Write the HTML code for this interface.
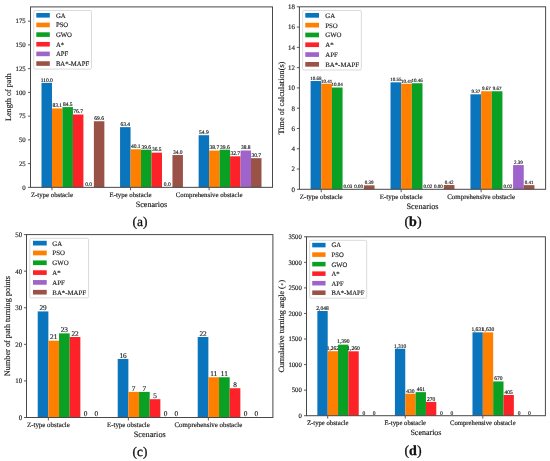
<!DOCTYPE html>
<html><head><meta charset="utf-8"><title>Figure</title>
<style>
html,body{margin:0;padding:0;background:#fff}
svg{display:block}
text{font-family:"Liberation Serif",serif;fill:#1a1a1a;text-rendering:geometricPrecision;stroke:#1a1a1a;stroke-width:0.15px}
</style></head><body>
<svg width="550" height="461" viewBox="0 0 550 461">
<rect width="550" height="461" fill="#fff"/>
<g>
<rect x="41.50" y="82.88" width="10.48" height="104.47" fill="#0a74bd"/>
<text x="46.74" y="81.68" font-size="5.5" text-anchor="middle">110.0</text>
<rect x="51.98" y="108.43" width="10.48" height="78.92" fill="#ff7f00"/>
<text x="57.21" y="107.23" font-size="5.5" text-anchor="middle">83.1</text>
<rect x="62.45" y="107.10" width="10.48" height="80.25" fill="#0aa024"/>
<text x="67.69" y="105.90" font-size="5.5" text-anchor="middle">84.5</text>
<rect x="72.93" y="114.51" width="10.48" height="72.84" fill="#fc2228"/>
<text x="78.17" y="113.31" font-size="5.5" text-anchor="middle">76.7</text>
<text x="88.64" y="186.15" font-size="5.5" text-anchor="middle">0.0</text>
<rect x="93.88" y="121.25" width="10.48" height="66.10" fill="#9b5246"/>
<text x="99.12" y="120.05" font-size="5.5" text-anchor="middle">69.6</text>
<rect x="120.07" y="127.14" width="10.48" height="60.21" fill="#0a74bd"/>
<text x="125.31" y="125.94" font-size="5.5" text-anchor="middle">63.4</text>
<rect x="130.55" y="149.27" width="10.48" height="38.08" fill="#ff7f00"/>
<text x="135.79" y="148.07" font-size="5.5" text-anchor="middle">40.1</text>
<rect x="141.02" y="149.74" width="10.48" height="37.61" fill="#0aa024"/>
<text x="146.26" y="148.54" font-size="5.5" text-anchor="middle">39.6</text>
<rect x="151.50" y="152.68" width="10.48" height="34.67" fill="#fc2228"/>
<text x="156.74" y="151.48" font-size="5.5" text-anchor="middle">36.5</text>
<text x="167.21" y="186.15" font-size="5.5" text-anchor="middle">0.0</text>
<rect x="172.45" y="155.06" width="10.48" height="32.29" fill="#9b5246"/>
<text x="177.69" y="153.86" font-size="5.5" text-anchor="middle">34.0</text>
<rect x="198.64" y="135.21" width="10.48" height="52.14" fill="#0a74bd"/>
<text x="203.88" y="134.01" font-size="5.5" text-anchor="middle">54.9</text>
<rect x="209.12" y="150.60" width="10.48" height="36.75" fill="#ff7f00"/>
<text x="214.36" y="149.40" font-size="5.5" text-anchor="middle">38.7</text>
<rect x="219.60" y="149.74" width="10.48" height="37.61" fill="#0aa024"/>
<text x="224.83" y="148.54" font-size="5.5" text-anchor="middle">39.6</text>
<rect x="230.07" y="156.29" width="10.48" height="31.06" fill="#fc2228"/>
<text x="235.31" y="155.09" font-size="5.5" text-anchor="middle">32.7</text>
<rect x="240.55" y="150.50" width="10.48" height="36.85" fill="#9f63cc"/>
<text x="245.79" y="149.30" font-size="5.5" text-anchor="middle">38.8</text>
<rect x="251.02" y="158.19" width="10.48" height="29.16" fill="#9b5246"/>
<text x="256.26" y="156.99" font-size="5.5" text-anchor="middle">30.7</text>
<rect x="30.5" y="6.9" width="242.00" height="180.45" fill="none" stroke="#484848" stroke-width="1"/>
<line x1="28.00" y1="187.35" x2="30.5" y2="187.35" stroke="#484848" stroke-width="0.9"/>
<text x="25.70" y="189.65" font-size="6.80" text-anchor="end">0</text>
<line x1="28.00" y1="163.61" x2="30.5" y2="163.61" stroke="#484848" stroke-width="0.9"/>
<text x="25.70" y="165.91" font-size="6.80" text-anchor="end">25</text>
<line x1="28.00" y1="139.86" x2="30.5" y2="139.86" stroke="#484848" stroke-width="0.9"/>
<text x="25.70" y="142.16" font-size="6.80" text-anchor="end">50</text>
<line x1="28.00" y1="116.12" x2="30.5" y2="116.12" stroke="#484848" stroke-width="0.9"/>
<text x="25.70" y="118.42" font-size="6.80" text-anchor="end">75</text>
<line x1="28.00" y1="92.38" x2="30.5" y2="92.38" stroke="#484848" stroke-width="0.9"/>
<text x="25.70" y="94.68" font-size="6.80" text-anchor="end">100</text>
<line x1="28.00" y1="68.63" x2="30.5" y2="68.63" stroke="#484848" stroke-width="0.9"/>
<text x="25.70" y="70.93" font-size="6.80" text-anchor="end">125</text>
<line x1="28.00" y1="44.89" x2="30.5" y2="44.89" stroke="#484848" stroke-width="0.9"/>
<text x="25.70" y="47.19" font-size="6.80" text-anchor="end">150</text>
<line x1="28.00" y1="21.15" x2="30.5" y2="21.15" stroke="#484848" stroke-width="0.9"/>
<text x="25.70" y="23.45" font-size="6.80" text-anchor="end">175</text>
<line x1="51.98" y1="187.35" x2="51.98" y2="190.25" stroke="#484848" stroke-width="0.9"/>
<text x="51.98" y="197.05" font-size="6.80" text-anchor="middle">Z-type obstacle</text>
<line x1="130.55" y1="187.35" x2="130.55" y2="190.25" stroke="#484848" stroke-width="0.9"/>
<text x="130.55" y="197.05" font-size="6.80" text-anchor="middle">E-type obstacle</text>
<line x1="209.12" y1="187.35" x2="209.12" y2="190.25" stroke="#484848" stroke-width="0.9"/>
<text x="209.12" y="197.05" font-size="6.80" text-anchor="middle">Comprehensive obstacle</text>
<text x="151.50" y="206.75" font-size="8.10" text-anchor="middle">Scenarios</text>
<text transform="translate(11.0,97.12) rotate(-90)" font-size="8.10" text-anchor="middle">Length of path</text>
<rect x="33.70" y="10.50" width="57.80" height="58.60" rx="1.3" fill="#fff" fill-opacity="0.8" stroke="#cccccc" stroke-width="0.7"/>
<rect x="36.30" y="13.00" width="13.50" height="4.60" fill="#0a74bd"/>
<text x="55.90" y="17.70" font-size="6.73">GA</text>
<rect x="36.30" y="22.65" width="13.50" height="4.60" fill="#ff7f00"/>
<text x="55.90" y="27.35" font-size="6.73">PSO</text>
<rect x="36.30" y="32.30" width="13.50" height="4.60" fill="#0aa024"/>
<text x="55.90" y="37.00" font-size="6.73">GWO</text>
<rect x="36.30" y="41.95" width="13.50" height="4.60" fill="#fc2228"/>
<text x="55.90" y="46.65" font-size="6.73">A*</text>
<rect x="36.30" y="51.60" width="13.50" height="4.60" fill="#9f63cc"/>
<text x="55.90" y="56.30" font-size="6.73">APF</text>
<rect x="36.30" y="61.25" width="13.50" height="4.60" fill="#9b5246"/>
<text x="55.90" y="65.95" font-size="6.73">BA*-MAPF</text>
<text x="140" y="225.8" font-size="13.5" text-anchor="middle" style="fill:#111;stroke:#111;stroke-width:0.3px">(<tspan>a</tspan>)</text>
</g>
<g>
<rect x="310.59" y="81.02" width="10.66" height="108.28" fill="#0a74bd"/>
<text x="315.92" y="79.82" font-size="5.0" text-anchor="middle">10.68</text>
<rect x="321.25" y="83.75" width="10.66" height="105.55" fill="#ff7f00"/>
<text x="326.58" y="82.55" font-size="5.0" text-anchor="middle">10.41</text>
<rect x="331.91" y="87.51" width="10.66" height="101.79" fill="#0aa024"/>
<text x="337.24" y="86.31" font-size="5.0" text-anchor="middle">10.04</text>
<rect x="342.56" y="189.00" width="10.66" height="0.30" fill="#fc2228"/>
<text x="347.89" y="187.80" font-size="5.0" text-anchor="middle">0.03</text>
<text x="358.55" y="188.10" font-size="5.0" text-anchor="middle">0.00</text>
<rect x="363.88" y="185.35" width="10.66" height="3.95" fill="#9b5246"/>
<text x="369.21" y="184.15" font-size="5.0" text-anchor="middle">0.39</text>
<rect x="390.53" y="82.33" width="10.66" height="106.97" fill="#0a74bd"/>
<text x="395.85" y="81.13" font-size="5.0" text-anchor="middle">10.55</text>
<rect x="401.18" y="83.75" width="10.66" height="105.55" fill="#ff7f00"/>
<text x="406.51" y="82.55" font-size="5.0" text-anchor="middle">10.41</text>
<rect x="411.84" y="83.25" width="10.66" height="106.05" fill="#0aa024"/>
<text x="417.17" y="82.05" font-size="5.0" text-anchor="middle">10.46</text>
<rect x="422.50" y="189.10" width="10.66" height="0.20" fill="#fc2228"/>
<text x="427.83" y="187.90" font-size="5.0" text-anchor="middle">0.02</text>
<text x="438.49" y="188.10" font-size="5.0" text-anchor="middle">0.00</text>
<rect x="443.82" y="185.04" width="10.66" height="4.26" fill="#9b5246"/>
<text x="449.15" y="183.84" font-size="5.0" text-anchor="middle">0.42</text>
<rect x="470.46" y="94.30" width="10.66" height="95.00" fill="#0a74bd"/>
<text x="475.79" y="93.10" font-size="5.0" text-anchor="middle">9.37</text>
<rect x="481.12" y="91.26" width="10.66" height="98.04" fill="#ff7f00"/>
<text x="486.45" y="90.06" font-size="5.0" text-anchor="middle">9.67</text>
<rect x="491.78" y="91.26" width="10.66" height="98.04" fill="#0aa024"/>
<text x="497.11" y="90.06" font-size="5.0" text-anchor="middle">9.67</text>
<rect x="502.44" y="189.10" width="10.66" height="0.20" fill="#fc2228"/>
<text x="507.76" y="187.90" font-size="5.0" text-anchor="middle">0.02</text>
<rect x="513.09" y="165.07" width="10.66" height="24.23" fill="#9f63cc"/>
<text x="518.42" y="163.87" font-size="5.0" text-anchor="middle">2.39</text>
<rect x="523.75" y="185.14" width="10.66" height="4.16" fill="#9b5246"/>
<text x="529.08" y="183.94" font-size="5.0" text-anchor="middle">0.41</text>
<rect x="299.4" y="6.8" width="246.20" height="182.50" fill="none" stroke="#484848" stroke-width="1"/>
<line x1="296.86" y1="189.30" x2="299.4" y2="189.30" stroke="#484848" stroke-width="0.9"/>
<text x="295.00" y="191.64" font-size="6.91" text-anchor="end">0</text>
<line x1="296.86" y1="169.02" x2="299.4" y2="169.02" stroke="#484848" stroke-width="0.9"/>
<text x="295.00" y="171.36" font-size="6.91" text-anchor="end">2</text>
<line x1="296.86" y1="148.74" x2="299.4" y2="148.74" stroke="#484848" stroke-width="0.9"/>
<text x="295.00" y="151.08" font-size="6.91" text-anchor="end">4</text>
<line x1="296.86" y1="128.47" x2="299.4" y2="128.47" stroke="#484848" stroke-width="0.9"/>
<text x="295.00" y="130.80" font-size="6.91" text-anchor="end">6</text>
<line x1="296.86" y1="108.19" x2="299.4" y2="108.19" stroke="#484848" stroke-width="0.9"/>
<text x="295.00" y="110.53" font-size="6.91" text-anchor="end">8</text>
<line x1="296.86" y1="87.91" x2="299.4" y2="87.91" stroke="#484848" stroke-width="0.9"/>
<text x="295.00" y="90.25" font-size="6.91" text-anchor="end">10</text>
<line x1="296.86" y1="67.63" x2="299.4" y2="67.63" stroke="#484848" stroke-width="0.9"/>
<text x="295.00" y="69.97" font-size="6.91" text-anchor="end">12</text>
<line x1="296.86" y1="47.36" x2="299.4" y2="47.36" stroke="#484848" stroke-width="0.9"/>
<text x="295.00" y="49.69" font-size="6.91" text-anchor="end">14</text>
<line x1="296.86" y1="27.08" x2="299.4" y2="27.08" stroke="#484848" stroke-width="0.9"/>
<text x="295.00" y="29.41" font-size="6.91" text-anchor="end">16</text>
<line x1="296.86" y1="6.80" x2="299.4" y2="6.80" stroke="#484848" stroke-width="0.9"/>
<text x="295.00" y="9.14" font-size="6.91" text-anchor="end">18</text>
<line x1="321.25" y1="189.3" x2="321.25" y2="192.25" stroke="#484848" stroke-width="0.9"/>
<text x="321.25" y="198.65" font-size="6.91" text-anchor="middle">Z-type obstacle</text>
<line x1="401.18" y1="189.3" x2="401.18" y2="192.25" stroke="#484848" stroke-width="0.9"/>
<text x="401.18" y="198.65" font-size="6.91" text-anchor="middle">E-type obstacle</text>
<line x1="481.12" y1="189.3" x2="481.12" y2="192.25" stroke="#484848" stroke-width="0.9"/>
<text x="481.12" y="198.65" font-size="6.91" text-anchor="middle">Comprehensive obstacle</text>
<text x="422.50" y="209.30" font-size="8.23" text-anchor="middle">Scenarios</text>
<text transform="translate(283.9,98.05) rotate(-90)" font-size="8.23" text-anchor="middle">Time of calculation(s)</text>
<rect x="302.65" y="10.46" width="58.72" height="59.54" rx="1.3" fill="#fff" fill-opacity="0.8" stroke="#cccccc" stroke-width="0.7"/>
<rect x="305.29" y="13.00" width="13.72" height="4.67" fill="#0a74bd"/>
<text x="325.21" y="17.77" font-size="6.84">GA</text>
<rect x="305.29" y="22.80" width="13.72" height="4.67" fill="#ff7f00"/>
<text x="325.21" y="27.58" font-size="6.84">PSO</text>
<rect x="305.29" y="32.61" width="13.72" height="4.67" fill="#0aa024"/>
<text x="325.21" y="37.38" font-size="6.84">GWO</text>
<rect x="305.29" y="42.41" width="13.72" height="4.67" fill="#fc2228"/>
<text x="325.21" y="47.19" font-size="6.84">A*</text>
<rect x="305.29" y="52.22" width="13.72" height="4.67" fill="#9f63cc"/>
<text x="325.21" y="56.99" font-size="6.84">APF</text>
<rect x="305.29" y="62.02" width="13.72" height="4.67" fill="#9b5246"/>
<text x="325.21" y="66.79" font-size="6.84">BA*-MAPF</text>
<text x="413" y="226.4" font-size="14" text-anchor="middle" style="fill:#111;stroke:#111;stroke-width:0.3px">(<tspan font-weight="bold">b</tspan>)</text>
</g>
<g>
<rect x="37.70" y="311.42" width="10.67" height="106.08" fill="#0a74bd"/>
<text x="43.03" y="310.22" font-size="7.3" text-anchor="middle">29</text>
<rect x="48.37" y="340.68" width="10.67" height="76.82" fill="#ff7f00"/>
<text x="53.70" y="339.48" font-size="7.3" text-anchor="middle">21</text>
<rect x="59.03" y="333.37" width="10.67" height="84.13" fill="#0aa024"/>
<text x="64.37" y="332.17" font-size="7.3" text-anchor="middle">23</text>
<rect x="69.70" y="337.02" width="10.67" height="80.48" fill="#fc2228"/>
<text x="75.03" y="335.82" font-size="7.3" text-anchor="middle">22</text>
<text x="85.70" y="416.30" font-size="7.3" text-anchor="middle">0</text>
<text x="96.37" y="416.30" font-size="7.3" text-anchor="middle">0</text>
<rect x="117.70" y="358.97" width="10.67" height="58.53" fill="#0a74bd"/>
<text x="123.03" y="357.77" font-size="7.3" text-anchor="middle">16</text>
<rect x="128.37" y="391.89" width="10.67" height="25.61" fill="#ff7f00"/>
<text x="133.70" y="390.69" font-size="7.3" text-anchor="middle">7</text>
<rect x="139.03" y="391.89" width="10.67" height="25.61" fill="#0aa024"/>
<text x="144.37" y="390.69" font-size="7.3" text-anchor="middle">7</text>
<rect x="149.70" y="399.21" width="10.67" height="18.29" fill="#fc2228"/>
<text x="155.03" y="398.01" font-size="7.3" text-anchor="middle">5</text>
<text x="165.70" y="416.30" font-size="7.3" text-anchor="middle">0</text>
<text x="176.37" y="416.30" font-size="7.3" text-anchor="middle">0</text>
<rect x="197.70" y="337.02" width="10.67" height="80.48" fill="#0a74bd"/>
<text x="203.03" y="335.82" font-size="7.3" text-anchor="middle">22</text>
<rect x="208.37" y="377.26" width="10.67" height="40.24" fill="#ff7f00"/>
<text x="213.70" y="376.06" font-size="7.3" text-anchor="middle">11</text>
<rect x="219.03" y="377.26" width="10.67" height="40.24" fill="#0aa024"/>
<text x="224.37" y="376.06" font-size="7.3" text-anchor="middle">11</text>
<rect x="229.70" y="388.24" width="10.67" height="29.26" fill="#fc2228"/>
<text x="235.03" y="387.04" font-size="7.3" text-anchor="middle">8</text>
<text x="245.70" y="416.30" font-size="7.3" text-anchor="middle">0</text>
<text x="256.37" y="416.30" font-size="7.3" text-anchor="middle">0</text>
<rect x="26.5" y="234.6" width="246.40" height="182.90" fill="none" stroke="#484848" stroke-width="1"/>
<line x1="23.96" y1="417.50" x2="26.5" y2="417.50" stroke="#484848" stroke-width="0.9"/>
<text x="22.10" y="419.84" font-size="6.92" text-anchor="end">0</text>
<line x1="23.96" y1="380.92" x2="26.5" y2="380.92" stroke="#484848" stroke-width="0.9"/>
<text x="22.10" y="383.26" font-size="6.92" text-anchor="end">10</text>
<line x1="23.96" y1="344.34" x2="26.5" y2="344.34" stroke="#484848" stroke-width="0.9"/>
<text x="22.10" y="346.68" font-size="6.92" text-anchor="end">20</text>
<line x1="23.96" y1="307.76" x2="26.5" y2="307.76" stroke="#484848" stroke-width="0.9"/>
<text x="22.10" y="310.10" font-size="6.92" text-anchor="end">30</text>
<line x1="23.96" y1="271.18" x2="26.5" y2="271.18" stroke="#484848" stroke-width="0.9"/>
<text x="22.10" y="273.52" font-size="6.92" text-anchor="end">40</text>
<line x1="23.96" y1="234.60" x2="26.5" y2="234.60" stroke="#484848" stroke-width="0.9"/>
<text x="22.10" y="236.94" font-size="6.92" text-anchor="end">50</text>
<line x1="48.37" y1="417.5" x2="48.37" y2="420.45" stroke="#484848" stroke-width="0.9"/>
<text x="48.37" y="427.20" font-size="6.92" text-anchor="middle">Z-type obstacle</text>
<line x1="128.37" y1="417.5" x2="128.37" y2="420.45" stroke="#484848" stroke-width="0.9"/>
<text x="128.37" y="427.20" font-size="6.92" text-anchor="middle">E-type obstacle</text>
<line x1="208.37" y1="417.5" x2="208.37" y2="420.45" stroke="#484848" stroke-width="0.9"/>
<text x="208.37" y="427.20" font-size="6.92" text-anchor="middle">Comprehensive obstacle</text>
<text x="149.70" y="437.30" font-size="8.24" text-anchor="middle">Scenarios</text>
<text transform="translate(9.8,326.05) rotate(-90)" font-size="8.24" text-anchor="middle">Number of path turning points</text>
<rect x="29.75" y="238.26" width="58.78" height="59.60" rx="1.3" fill="#fff" fill-opacity="0.8" stroke="#cccccc" stroke-width="0.7"/>
<rect x="33.00" y="240.80" width="13.73" height="4.68" fill="#0a74bd"/>
<text x="52.33" y="245.58" font-size="6.84">GA</text>
<rect x="33.00" y="250.62" width="13.73" height="4.68" fill="#ff7f00"/>
<text x="52.33" y="255.40" font-size="6.84">PSO</text>
<rect x="33.00" y="260.43" width="13.73" height="4.68" fill="#0aa024"/>
<text x="52.33" y="265.21" font-size="6.84">GWO</text>
<rect x="33.00" y="270.25" width="13.73" height="4.68" fill="#fc2228"/>
<text x="52.33" y="275.03" font-size="6.84">A*</text>
<rect x="33.00" y="280.06" width="13.73" height="4.68" fill="#9f63cc"/>
<text x="52.33" y="284.84" font-size="6.84">APF</text>
<rect x="33.00" y="289.87" width="13.73" height="4.68" fill="#9b5246"/>
<text x="52.33" y="294.65" font-size="6.84">BA*-MAPF</text>
<text x="140" y="456.0" font-size="13.3" text-anchor="middle" style="fill:#111;stroke:#111;stroke-width:0.3px">(<tspan>c</tspan>)</text>
</g>
<g>
<rect x="317.36" y="311.02" width="10.34" height="104.68" fill="#0a74bd"/>
<text x="322.53" y="309.82" font-size="5.5" text-anchor="middle">2,048</text>
<rect x="327.70" y="351.19" width="10.34" height="64.51" fill="#ff7f00"/>
<text x="332.87" y="349.99" font-size="5.5" text-anchor="middle">1,262</text>
<rect x="338.04" y="344.65" width="10.34" height="71.05" fill="#0aa024"/>
<text x="343.21" y="343.45" font-size="5.5" text-anchor="middle">1,390</text>
<rect x="348.39" y="351.30" width="10.34" height="64.40" fill="#fc2228"/>
<text x="353.56" y="350.10" font-size="5.5" text-anchor="middle">1,260</text>
<text x="363.90" y="414.50" font-size="5.5" text-anchor="middle">0</text>
<text x="374.24" y="414.50" font-size="5.5" text-anchor="middle">0</text>
<rect x="394.92" y="348.74" width="10.34" height="66.96" fill="#0a74bd"/>
<text x="400.10" y="347.54" font-size="5.5" text-anchor="middle">1,310</text>
<rect x="405.27" y="393.72" width="10.34" height="21.98" fill="#ff7f00"/>
<text x="410.44" y="392.52" font-size="5.5" text-anchor="middle">430</text>
<rect x="415.61" y="392.14" width="10.34" height="23.56" fill="#0aa024"/>
<text x="420.78" y="390.94" font-size="5.5" text-anchor="middle">461</text>
<rect x="425.95" y="401.90" width="10.34" height="13.80" fill="#fc2228"/>
<text x="431.12" y="400.70" font-size="5.5" text-anchor="middle">270</text>
<text x="441.46" y="414.50" font-size="5.5" text-anchor="middle">0</text>
<text x="451.80" y="414.50" font-size="5.5" text-anchor="middle">0</text>
<rect x="472.49" y="332.33" width="10.34" height="83.37" fill="#0a74bd"/>
<text x="477.66" y="331.13" font-size="5.5" text-anchor="middle">1,631</text>
<rect x="482.83" y="332.38" width="10.34" height="83.32" fill="#ff7f00"/>
<text x="488.00" y="331.18" font-size="5.5" text-anchor="middle">1,630</text>
<rect x="493.17" y="381.45" width="10.34" height="34.25" fill="#0aa024"/>
<text x="498.34" y="380.25" font-size="5.5" text-anchor="middle">670</text>
<rect x="503.51" y="395.00" width="10.34" height="20.70" fill="#fc2228"/>
<text x="508.69" y="393.80" font-size="5.5" text-anchor="middle">405</text>
<text x="519.03" y="414.50" font-size="5.5" text-anchor="middle">0</text>
<text x="529.37" y="414.50" font-size="5.5" text-anchor="middle">0</text>
<rect x="306.5" y="236.8" width="238.90" height="178.90" fill="none" stroke="#484848" stroke-width="1"/>
<line x1="304.03" y1="415.70" x2="306.5" y2="415.70" stroke="#484848" stroke-width="0.9"/>
<text x="301.80" y="417.97" font-size="6.71" text-anchor="end">0</text>
<line x1="304.03" y1="390.14" x2="306.5" y2="390.14" stroke="#484848" stroke-width="0.9"/>
<text x="301.80" y="392.41" font-size="6.71" text-anchor="end">500</text>
<line x1="304.03" y1="364.59" x2="306.5" y2="364.59" stroke="#484848" stroke-width="0.9"/>
<text x="301.80" y="366.86" font-size="6.71" text-anchor="end">1000</text>
<line x1="304.03" y1="339.03" x2="306.5" y2="339.03" stroke="#484848" stroke-width="0.9"/>
<text x="301.80" y="341.30" font-size="6.71" text-anchor="end">1500</text>
<line x1="304.03" y1="313.47" x2="306.5" y2="313.47" stroke="#484848" stroke-width="0.9"/>
<text x="301.80" y="315.74" font-size="6.71" text-anchor="end">2000</text>
<line x1="304.03" y1="287.91" x2="306.5" y2="287.91" stroke="#484848" stroke-width="0.9"/>
<text x="301.80" y="290.18" font-size="6.71" text-anchor="end">2500</text>
<line x1="304.03" y1="262.36" x2="306.5" y2="262.36" stroke="#484848" stroke-width="0.9"/>
<text x="301.80" y="264.63" font-size="6.71" text-anchor="end">3000</text>
<line x1="304.03" y1="236.80" x2="306.5" y2="236.80" stroke="#484848" stroke-width="0.9"/>
<text x="301.80" y="239.07" font-size="6.71" text-anchor="end">3500</text>
<line x1="327.70" y1="415.7" x2="327.70" y2="418.56" stroke="#484848" stroke-width="0.9"/>
<text x="327.70" y="425.40" font-size="6.71" text-anchor="middle">Z-type obstacle</text>
<line x1="405.27" y1="415.7" x2="405.27" y2="418.56" stroke="#484848" stroke-width="0.9"/>
<text x="405.27" y="425.40" font-size="6.71" text-anchor="middle">E-type obstacle</text>
<line x1="482.83" y1="415.7" x2="482.83" y2="418.56" stroke="#484848" stroke-width="0.9"/>
<text x="482.83" y="425.40" font-size="6.71" text-anchor="middle">Comprehensive obstacle</text>
<text x="425.95" y="434.50" font-size="7.99" text-anchor="middle">Scenarios</text>
<text transform="translate(284,326.25) rotate(-90)" font-size="7.99" text-anchor="middle">Cumulative turning angle (<tspan font-size="6">∘</tspan>)</text>
<rect x="309.66" y="240.35" width="57.05" height="57.84" rx="1.3" fill="#fff" fill-opacity="0.8" stroke="#cccccc" stroke-width="0.7"/>
<rect x="312.22" y="242.82" width="13.32" height="4.54" fill="#0a74bd"/>
<text x="331.57" y="247.46" font-size="6.64">GA</text>
<rect x="312.22" y="252.35" width="13.32" height="4.54" fill="#ff7f00"/>
<text x="331.57" y="256.98" font-size="6.64">PSO</text>
<rect x="312.22" y="261.87" width="13.32" height="4.54" fill="#0aa024"/>
<text x="331.57" y="266.51" font-size="6.64">GWO</text>
<rect x="312.22" y="271.39" width="13.32" height="4.54" fill="#fc2228"/>
<text x="331.57" y="276.03" font-size="6.64">A*</text>
<rect x="312.22" y="280.92" width="13.32" height="4.54" fill="#9f63cc"/>
<text x="331.57" y="285.56" font-size="6.64">APF</text>
<rect x="312.22" y="290.44" width="13.32" height="4.54" fill="#9b5246"/>
<text x="331.57" y="295.08" font-size="6.64">BA*-MAPF</text>
<text x="413" y="455.4" font-size="14" text-anchor="middle" style="fill:#111;stroke:#111;stroke-width:0.3px">(<tspan font-weight="bold">d</tspan>)</text>
</g>
</svg>
</body></html>
